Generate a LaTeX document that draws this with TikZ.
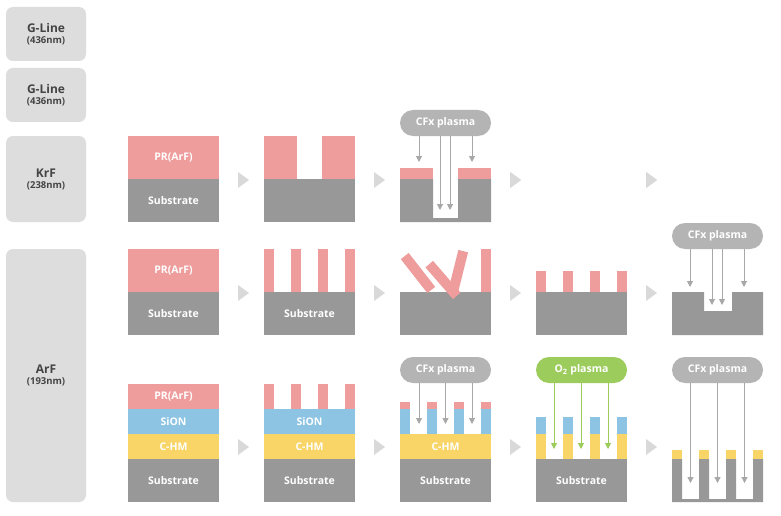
\documentclass[tikz,border=0pt]{standalone}
\usepackage{fontspec}
\setmainfont{Open Sans}
\usetikzlibrary{arrows.meta}
\definecolor{pr}{HTML}{EE9C9C}
\definecolor{sub}{HTML}{989898}
\definecolor{sion}{HTML}{8DC4E3}
\definecolor{chm}{HTML}{F8D566}
\definecolor{pl}{HTML}{B4B4B4}
\definecolor{grn}{HTML}{9CCC5C}
\definecolor{bx}{HTML}{DDDDDD}
\definecolor{tx}{HTML}{444444}
\definecolor{ar}{HTML}{A8A8A8}
\definecolor{tri}{HTML}{D9D9D9}
\begin{document}
\begin{tikzpicture}[x=1pt,y=-1pt,
  lbl/.style={text=white,font=\fontsize{10.5}{12}\selectfont\bfseries},
  side/.style={fill=bx,rounded corners=7pt,draw=none},
  sidetxt/.style={text=tx,align=center,font=\fontsize{12}{12}\selectfont\bfseries},
  pill/.style={fill=pl,rounded corners=13pt,minimum width=91pt,minimum height=26pt,inner sep=0pt,text=white,font=\fontsize{10.5}{12}\selectfont\bfseries},
  gar/.style={draw=ar,line width=1pt,-{Triangle[width=6pt,length=6pt]}},
  grar/.style={draw=grn,line width=1pt,-{Triangle[width=6pt,length=6pt]}},
  play/.style={fill=tri}]
\fill[white] (0,0) rectangle (781,516);
\useasboundingbox (0,0) rectangle (781,516);
% side boxes
\newcommand\sidebox[4]{\fill[side] (6,#1) rectangle (86,#2);
  \node[sidetxt] (#4) at (46,{(#1+#2)/2}) {#3};}
\sidebox{7}{61}{G-Line\\[-1pt]{\fontsize{9.5}{10}\selectfont(436nm)}}{s1}
\sidebox{68}{122}{G-Line\\[-1pt]{\fontsize{9.5}{10}\selectfont(436nm)}}{s2}
\sidebox{136}{222}{KrF\\[-1pt]{\fontsize{9.5}{10}\selectfont(238nm)}}{s3}
\sidebox{249}{502}{ArF\\[-1pt]{\fontsize{9.5}{10}\selectfont(193nm)}}{s4}
% play triangles
\foreach \yy in {180,293,447}{\foreach \xx in {238,374,510,646}{
  \fill[play] (\xx,\yy-8) -- (\xx+11,\yy) -- (\xx,\yy+8) -- cycle;}}
\foreach \xx in {510,646}{\fill[play] (\xx,180-8) -- (\xx+11,180) -- (\xx,180+8) -- cycle;}
% ===== KrF row =====
\fill[pr] (128,136) rectangle (219,179); \node[lbl] (k1a) at (173.5,157.5) {PR(ArF)};
\fill[sub] (128,179) rectangle (219,222); \node[lbl] (k1b) at (173.5,200.5) {Substrate};
\fill[pr] (264,136) rectangle (297,179); \fill[pr] (322,136) rectangle (355,179);
\fill[sub] (264,179) rectangle (355,222);
\fill[pr] (400,168) rectangle (433,179); \fill[pr] (458,168) rectangle (491,179);
\fill[sub] (400,179) -- (433,179) -- (433,218) -- (458,218) -- (458,179) -- (491,179) -- (491,222) -- (400,222) -- cycle;
\node[pill] (p1) at (445.5,123) {CFx plasma};
\coordinate (k1) at (419,162); \coordinate (k2) at (440,210); \coordinate (k3) at (450,210); \coordinate (k4) at (472,162);
\foreach \c in {k1,k2,k3,k4}{\draw[gar] (p1.south -| \c) -- (\c);}
% ===== ArF row 1 =====
\fill[pr] (128,249) rectangle (219,292); \node[lbl] (a1a) at (173.5,270.5) {PR(ArF)};
\fill[sub] (128,292) rectangle (219,335); \node[lbl] (a1b) at (173.5,313.5) {Substrate};
\foreach \xx in {264,291,318,345}{\fill[pr] (\xx,249) rectangle (\xx+10,292);}
\fill[sub] (264,292) rectangle (355,335); \node[lbl] (a2b) at (309.5,313.5) {Substrate};
\fill[sub] (400,292) rectangle (491,335);
\fill[pr] (481,249) rectangle (491,292);
\fill[pr,rotate around={-104:(458,272)}] (458-21.5,272-5) rectangle (458+21.5,272+5);
\fill[pr,rotate around={-52:(418,273)}] (418-21.5,273-5) rectangle (418+21.5,273+5);
\fill[pr,rotate around={-49:(443,280)}] (443-21,280-5) rectangle (443+21,280+5);
\fill[sub] (536,292) rectangle (627,335);
\foreach \xx in {536,563,590,617}{\fill[pr] (\xx,271) rectangle (\xx+10,292);}
\fill[sub] (672,292) -- (704,292) -- (704,311) -- (732,311) -- (732,292) -- (763,292) -- (763,335) -- (672,335) -- cycle;
\node[pill] (p2) at (717.5,236) {CFx plasma};
\coordinate (m1) at (690,287); \coordinate (m2) at (712,305); \coordinate (m3) at (722,305); \coordinate (m4) at (744,287);
\foreach \c in {m1,m2,m3,m4}{\draw[gar] (p2.south -| \c) -- (\c);}
% ===== ArF row 2 =====
\fill[pr] (128,384) rectangle (219,409); \node[lbl] (b1a) at (173.5,396.5) {PR(ArF)};
\fill[sion] (128,409) rectangle (219,434); \node[lbl] (b1b) at (173.5,421.5) {SiON};
\fill[chm] (128,434) rectangle (219,459); \node[lbl] (b1c) at (173.5,446.5) {C-HM};
\fill[sub] (128,459) rectangle (219,502); \node[lbl] (b1d) at (173.5,480.5) {Substrate};
\foreach \xx in {264,291,318,345}{\fill[pr] (\xx,384) rectangle (\xx+10,409);}
\fill[sion] (264,409) rectangle (355,434); \node[lbl] (b2b) at (309.5,421.5) {SiON};
\fill[chm] (264,434) rectangle (355,459); \node[lbl] (b2c) at (309.5,446.5) {C-HM};
\fill[sub] (264,459) rectangle (355,502); \node[lbl] (b2d) at (309.5,480.5) {Substrate};
% col3
\foreach \xx in {400,427,454,481}{\fill[pr] (\xx,402) rectangle (\xx+10,409);\fill[sion] (\xx,409) rectangle (\xx+10,434);}
\fill[chm] (400,434) rectangle (491,459); \node[lbl] (b3c) at (445.5,446.5) {C-HM};
\fill[sub] (400,459) rectangle (491,502); \node[lbl] (b3d) at (445.5,480.5) {Substrate};
\node[pill] (p3) at (445.5,370) {CFx plasma};
\coordinate (n1) at (419,424); \coordinate (n2) at (445.5,424); \coordinate (n3) at (472,424);
\foreach \c in {n1,n2,n3}{\draw[gar] (p3.south -| \c) -- (\c);}
% col4
\foreach \xx in {536,563,590,617}{\fill[sion] (\xx,417) rectangle (\xx+10,434);\fill[chm] (\xx,434) rectangle (\xx+10,459);}
\fill[sub] (536,459) rectangle (627,502); \node[lbl] (b4d) at (581.5,480.5) {Substrate};
\node[pill,fill=grn] (p4) at (581.5,370) {O\textsubscript{2} plasma};
\coordinate (o1) at (554,449); \coordinate (o2) at (581,449); \coordinate (o3) at (608,449);
\foreach \c in {o1,o2,o3}{\draw[grar] (p4.south -| \c) -- (\c);}
% col5
\foreach \xx in {672,699,726,753}{\fill[chm] (\xx,450) rectangle (\xx+10,459);}
\fill[sub] (672,459) -- (682,459) -- (682,499) -- (699,499) -- (699,459) -- (709,459) -- (709,499) -- (726,499) -- (726,459) -- (736,459) -- (736,499) -- (753,499) -- (753,459) -- (763,459) -- (763,502) -- (672,502) -- cycle;
\node[pill] (p5) at (717.5,370) {CFx plasma};
\coordinate (q1) at (690.5,483); \coordinate (q2) at (717.5,483); \coordinate (q3) at (744.5,483);
\foreach \c in {q1,q2,q3}{\draw[gar] (p5.south -| \c) -- (\c);}
\end{tikzpicture}
\end{document}
